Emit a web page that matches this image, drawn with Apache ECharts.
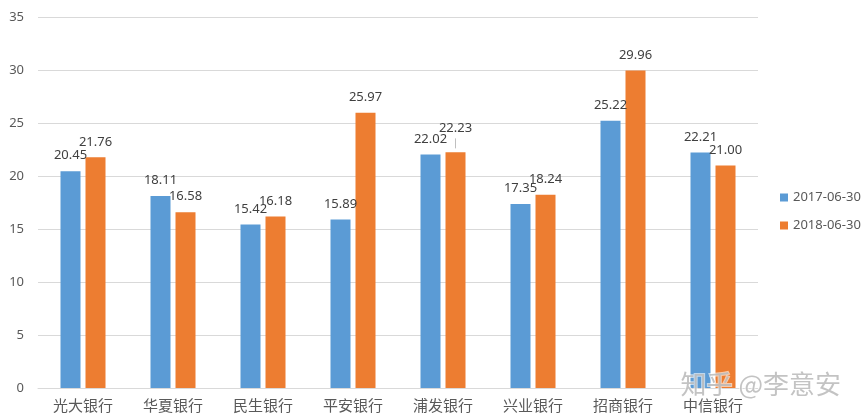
<!DOCTYPE html>
<html>
<head>
<meta charset="utf-8">
<style>
  html, body { margin: 0; padding: 0; background: #fff; }
  #chart { width: 864px; height: 420px; }
</style>
<script src="https://cdn.jsdelivr.net/npm/echarts@6/dist/echarts.min.js"></script>
</head>
<body>
<div id="chart"></div>
<script>
// 数据
const categories = ['光大银行', '华夏银行', '民生银行', '平安银行', '浦发银行', '兴业银行', '招商银行', '中信银行']
const seriesNames = ['2017-06-30', '2018-06-30']
const values2017 = [20.45, 18.11, 15.42, 15.89, 22.02, 17.35, 25.22, 22.21]
const values2018 = [21.76, 16.58, 16.18, 25.97, 22.23, 18.24, 29.96, 21.00]
const yTicks = [0, 5, 10, 15, 20, 25, 30, 35]

const colors = ['#5b9bd5', '#ed7d31']
const fontFamily = '"Noto Sans", "Noto Sans CJK SC", sans-serif'

const chart = echarts.init(document.getElementById('chart'))

// 浦发 2018 标签被抬高（原图带引导线）
const raisedSeries = 1
const raisedIndex = 4
const raiseBy = 9

const makeSeries = (idx, data, color) => ({
  name: seriesNames[idx],
  type: 'bar',
  data: data.map((v, i) =>
    idx === raisedSeries && i === raisedIndex ? { value: v, label: { offset: [0, -raiseBy] } } : v,
  ),
  barWidth: 20,
  barGap: '25%',
  itemStyle: { color },
  label: {
    show: true,
    position: 'top',
    distance: 9,
    color: '#404040',
    fontSize: 13,
    fontFamily,
    formatter: p => p.value.toFixed(2),
  },
})

chart.setOption({
  backgroundColor: '#fff',
  animation: false,
  textStyle: { fontFamily },
  grid: { left: 38, right: 106, top: 17, bottom: 32, containLabel: false },
  xAxis: {
    type: 'category',
    data: categories,
    axisLine: { lineStyle: { color: '#d9d9d9' } },
    axisTick: { show: false },
    axisLabel: { color: '#595959', fontSize: 15, margin: 11 },
  },
  yAxis: {
    type: 'value',
    min: yTicks[0],
    max: yTicks[yTicks.length - 1],
    interval: 5,
    axisLine: { show: false },
    axisTick: { show: false },
    axisLabel: { color: '#595959', fontSize: 13, margin: 14 },
    splitLine: { lineStyle: { color: '#d9d9d9' } },
  },
  legend: {
    orient: 'vertical',
    left: 775,
    top: 186,
    itemWidth: 8,
    itemHeight: 8,
    itemGap: 15,
    icon: 'rect',
    textStyle: { color: '#595959', fontSize: 13 },
    data: seriesNames,
  },
  series: [
    makeSeries(0, values2017, colors[0]),
    makeSeries(1, values2018, colors[1]),
  ],
})

// 引导线：从柱顶位置换算
const layout = chart.getModel().getSeriesByIndex(raisedSeries).getData().getItemLayout(raisedIndex)
const lx = layout.x + layout.width / 2
const ly = layout.y + layout.height // 柱高为负，y + height 即柱顶

chart.setOption({
  graphic: [
    {
      type: 'line',
      z: 50,
      shape: { x1: lx, y1: ly - 4, x2: lx, y2: ly - 14 },
      style: { stroke: '#bfbfbf', lineWidth: 1 },
    },
    {
      type: 'text',
      right: 22,
      bottom: 22,
      z: 100,
      style: {
        text: '知乎 @李意安',
        fontSize: 26,
        fontFamily: '"Noto Sans CJK SC", sans-serif',
        fill: 'rgba(185,185,185,0.85)',
        stroke: 'rgba(255,255,255,0.6)',
        lineWidth: 2,
      },
    },
  ],
})
</script>
</body>
</html>
